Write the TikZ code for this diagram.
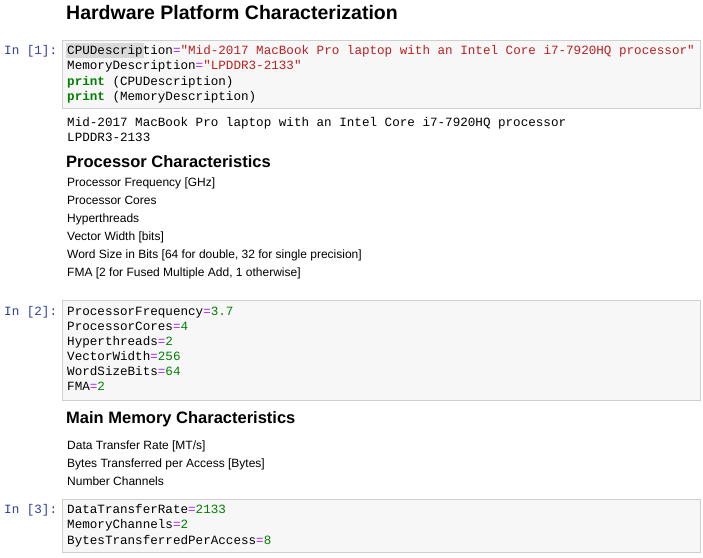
\documentclass[tikz,border=0pt]{standalone}
\usepackage{fontspec}
\setmainfont{Liberation Sans}
\setmonofont{Liberation Mono}
\definecolor{prompt}{HTML}{303F9F}
\definecolor{cellbg}{HTML}{F7F7F7}
\definecolor{cellbd}{HTML}{CFCFCF}
\definecolor{eqc}{HTML}{AA22FF}
\definecolor{strc}{HTML}{BA2121}
\definecolor{numc}{HTML}{008000}
\newcommand\EQ{\textcolor{eqc}{=}}
\newcommand\STR[1]{\textcolor{strc}{#1}}
\newcommand\NUM[1]{\textcolor{numc}{#1}}
\newcommand\KW[1]{\textcolor{numc}{\bfseries #1}}
\tikzset{
 code/.style={anchor=base west,inner sep=0,font=\ttfamily\fontsize{12.6}{14}\selectfont},
 promptlbl/.style={code,text=prompt},
 txt/.style={anchor=base west,inner sep=0,font=\fontsize{12}{14}\selectfont},
 h1/.style={anchor=base west,inner sep=0,font=\bfseries\fontsize{19.5}{22}\selectfont},
 h2/.style={anchor=base west,inner sep=0,font=\bfseries\fontsize{16.5}{19}\selectfont},
 cell/.style={fill=cellbg,draw=cellbd,line width=0.8pt}
}
\begin{document}
\begin{tikzpicture}[x=1pt,y=-1pt]
\useasboundingbox[fill=white] (0,0) rectangle (703,557);
\node[h1] (t) at (66,19) {Hardware Platform Characterization};
% cell 1
\draw[cell] (62,40) rectangle (700,108);
\fill[black!15] (66,43) rectangle (143.5,58);
\node[promptlbl] (p1) at (4,54) {In [1]:};
\node[code] (c11) at (67,54) {CPUDescription\EQ\STR{"Mid-2017 MacBook Pro laptop with an Intel Core i7-7920HQ processor"}};
\node[code] (c12) at (67,69.5) {MemoryDescription\EQ\STR{"LPDDR3-2133"}};
\node[code] (c13) at (67,85) {\KW{print} (CPUDescription)};
\node[code] (c14) at (67,100.5) {\KW{print} (MemoryDescription)};
\node[code] (o1) at (67,126) {Mid-2017 MacBook Pro laptop with an Intel Core i7-7920HQ processor};
\node[code] (o2) at (67,141.5) {LPDDR3-2133};
\node[h2] (h2a) at (66,167) {Processor Characteristics};
\node[txt] (l1) at (67,186.5) {Processor Frequency [GHz]};
\node[txt] (l2) at (67,204.5) {Processor Cores};
\node[txt] (l3) at (67,222) {Hyperthreads};
\node[txt] (l4) at (67,240) {Vector Width [bits]};
\node[txt] (l5) at (67,258) {Word Size in Bits [64 for double, 32 for single precision]};
\node[txt] (l6) at (67,276) {FMA [2 for Fused Multiple Add, 1 otherwise]};
% cell 2
\draw[cell] (62,300) rectangle (700,400);
\node[promptlbl] (p2) at (4,315) {In [2]:};
\node[code] (c21) at (67,315) {ProcessorFrequency\EQ\NUM{3.7}};
\node[code] (c22) at (67,330) {ProcessorCores\EQ\NUM{4}};
\node[code] (c23) at (67,345) {Hyperthreads\EQ\NUM{2}};
\node[code] (c24) at (67,360) {VectorWidth\EQ\NUM{256}};
\node[code] (c25) at (67,375) {WordSizeBits\EQ\NUM{64}};
\node[code] (c26) at (67,390) {FMA\EQ\NUM{2}};
\node[h2] (h2b) at (66,423) {Main Memory Characteristics};
\node[txt] (m1) at (67,449.5) {Data Transfer Rate [MT/s]};
\node[txt] (m2) at (67,467.5) {Bytes Transferred per Access [Bytes]};
\node[txt] (m3) at (67,485.5) {Number Channels};
% cell 3
\draw[cell] (62,499) rectangle (700,552);
\node[promptlbl] (p3) at (4,513) {In [3]:};
\node[code] (c31) at (67,513) {DataTransferRate\EQ\NUM{2133}};
\node[code] (c32) at (67,528.5) {MemoryChannels\EQ\NUM{2}};
\node[code] (c33) at (67,544) {BytesTransferredPerAccess\EQ\NUM{8}};
\end{tikzpicture}
\end{document}
